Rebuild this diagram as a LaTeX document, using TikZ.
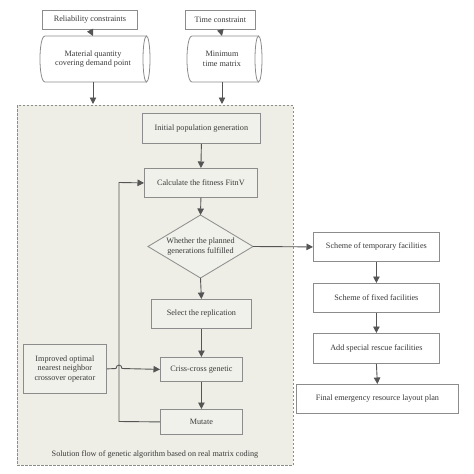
\documentclass[tikz,border=0pt]{standalone}
\usepackage{fontspec}
\setmainfont{Liberation Serif}
\usetikzlibrary{arrows.meta}
\definecolor{linec}{HTML}{555555}
\definecolor{boxc}{HTML}{8C8C8C}
\definecolor{txtc}{HTML}{3A3A3A}
\definecolor{regionc}{HTML}{EEEEE6}
\definecolor{inboxc}{HTML}{F1F1EB}
\tikzset{
  pbox/.style={draw=boxc, line width=0.8pt, fill=white, text=txtc, font=\fontsize{8.2}{9.7}\selectfont, align=center, inner sep=0pt, anchor=north west},
  ibox/.style={pbox, fill=inboxc},
  txt/.style={text=txtc, font=\fontsize{8.2}{9.7}\selectfont, align=center, inner sep=0pt},
  arr/.style={draw=linec, line width=0.9pt, -{Triangle[width=6.5pt,length=6.5pt]}},
}
\begin{document}
\begin{tikzpicture}[x=1pt,y=-1pt]
\useasboundingbox (0,0) rectangle (474,474);
% region
\node[draw=boxc, dashed, dash pattern=on 2.5pt off 1.5pt, fill=regionc, line width=0.7pt, minimum width=276pt, minimum height=360pt, inner sep=0pt, anchor=north west] (region) at (17,105) {};
% top boxes
\node[pbox, minimum width=95pt, minimum height=19pt] (rel) at (42,10) {Reliability constraints};
\node[pbox, minimum width=70pt, minimum height=19pt] (time) at (185,10) {Time constraint};
% cylinders
\draw[draw=boxc, line width=0.8pt, fill=white] (146.5,36) -- (45,36) .. controls (38.3,36) and (38.3,82) .. (45,82) -- (146.5,82);
\draw[draw=boxc, line width=0.8pt, fill=white] (146.5,59) ellipse [x radius=3.5pt, y radius=23pt];
\node[txt] (mat) at (93,59) {Material quantity\\covering demand point};
\draw[draw=boxc, line width=0.8pt, fill=white] (258.5,36) -- (192,36) .. controls (185.3,36) and (185.3,82) .. (192,82) -- (258.5,82);
\draw[draw=boxc, line width=0.8pt, fill=white] (258.5,59) ellipse [x radius=3.5pt, y radius=23pt];
\node[txt] (mint) at (222,59) {Minimum\\time matrix};
\coordinate (matT) at (93,36);
\coordinate (matB) at (93,82);
\coordinate (mintT) at (222,36);
\coordinate (mintB) at (222,82);
\coordinate (regA) at (93,104);
\coordinate (regB) at (222,104);
\draw[arr] (rel.south) -- (matT);
\draw[arr] (time.south) -- (mintT);
\draw[arr] (matB) -- (regA);
\draw[arr] (mintB) -- (regB);
% inner boxes
\node[ibox, minimum width=118pt, minimum height=30pt] (init) at (142,113) {Initial population generation};
\node[ibox, minimum width=113pt, minimum height=29pt] (calc) at (144,168) {Calculate the fitness FitnV};
% diamond
\draw[draw=boxc, line width=0.8pt, fill=inboxc] (200.5,215) -- (253,246.5) -- (200.5,278) -- (148,246.5) -- cycle;
\node[txt] (dec) at (200.5,246.5) {Whether the planned\\generations fulfilled};
\coordinate (decT) at (200.5,215);
\coordinate (decB) at (200.5,278);
\coordinate (decR) at (253,246.5);
\node[ibox, minimum width=100pt, minimum height=29pt] (sel) at (151,299) {Select the replication};
\node[ibox, minimum width=82pt, minimum height=24pt] (crs) at (160,357) {Criss-cross genetic};
\node[ibox, minimum width=82pt, minimum height=25pt] (mut) at (160,409) {Mutate};
\node[ibox, minimum width=83pt, minimum height=49pt] (imp) at (23,344) {Improved optimal\\nearest neighbor\\crossover operator};
\node[txt] (cap) at (155,454) {Solution flow of genetic algorithm based on real matrix coding};
% right column
\node[pbox, minimum width=126pt, minimum height=29pt] (tmp) at (313,232) {Scheme of temporary facilities};
\node[pbox, minimum width=126pt, minimum height=29pt] (fix) at (313,283) {Scheme of fixed facilities};
\node[pbox, minimum width=126pt, minimum height=30pt] (add) at (313,333) {Add special rescue facilities};
\node[pbox, minimum width=162pt, minimum height=29pt] (fin) at (296,384) {Final emergency resource layout plan};
% connectors
\draw[arr] (init.south) -- (calc.north);
\draw[arr] (calc.south) -- (decT);
\draw[arr] (decB) -- (sel.north);
\draw[arr] (sel.south) -- (crs.north);
\draw[arr] (crs.south) -- (mut.north);
\draw[arr] (decR) -- (tmp.west);
\draw[arr] (tmp.south) -- (fix.north);
\draw[arr] (fix.south) -- (add.north);
\draw[arr] (add.south) -- (fin.north);
\draw[arr] (mut.west) -- (119,421.5) -- (119,182.5) -- (calc.west);
\draw[arr] (imp.east) -- (116,368.5) .. controls (116,364) and (122,364) .. (122,368.5) -- (crs.west);
\end{tikzpicture}
\end{document}
